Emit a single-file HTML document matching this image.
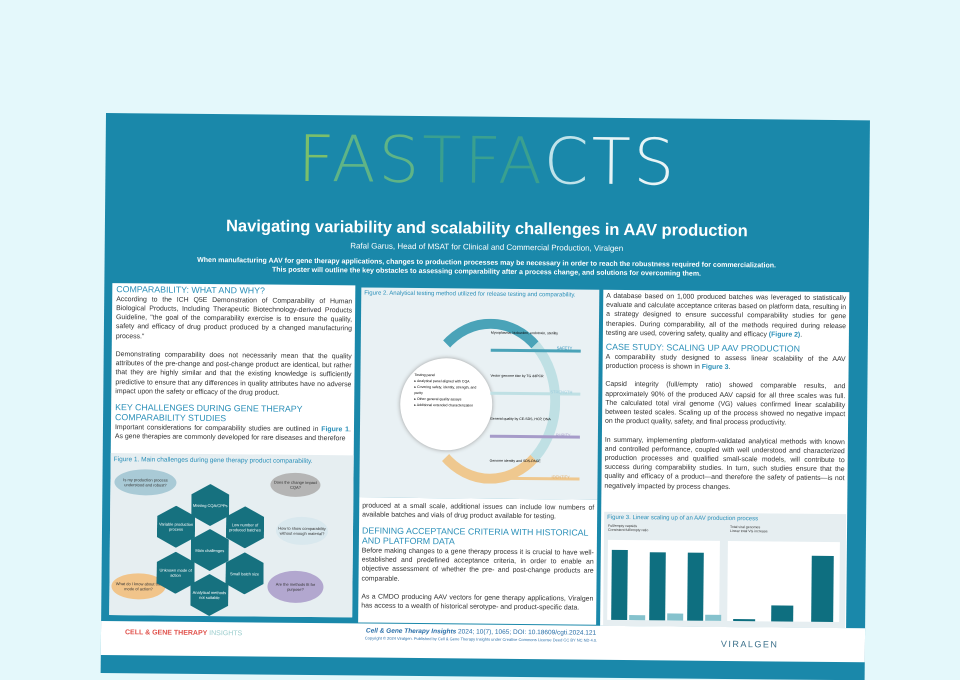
<!DOCTYPE html>
<html><head><meta charset="utf-8"><style>
body{margin:0;width:960px;height:660px;overflow:hidden;background:#e4f8fb;font-family:"Liberation Sans",sans-serif}
#p{position:absolute;left:106px;top:113px;width:764px;height:560px;background:#1a88aa;transform:rotate(0.55deg);transform-origin:0 0}
.a{position:absolute}
.w{background:#fff}
.t{font-size:6.9px;line-height:9.2px;color:#333;text-align:justify;font-family:"Liberation Sans Narrow","Liberation Sans",sans-serif}
.h{color:#2a8fb8;font-size:8.8px;line-height:9.8px}
.ff{position:absolute;top:8px;left:0;width:764px;text-align:center;font-size:64px;font-weight:100;letter-spacing:3px;color:#3aa98f;font-family:"DejaVu Sans",sans-serif}
.hex{position:absolute;width:38px;height:42px;background:#16717f;clip-path:polygon(50% 0,100% 25%,100% 75%,50% 100%,0 75%,0 25%);color:#fff;font-size:4px;text-align:center;display:flex;align-items:center;justify-content:center}
.cl{position:absolute;border-radius:50%;font-size:4px;text-align:center;display:flex;align-items:center;justify-content:center;color:#333}
.bar{position:absolute;bottom:0;background:#0e6f80}
.be{position:absolute;bottom:0;background:#85c2cd}
</style></head><body>
<div id="p">
<div class="ff"><span style="color:#7bbf6b">F</span><span style="color:#5fb486">AS</span><span style="color:#3aa08f">TFA</span><span style="color:#bfe3ea">C</span><span style="color:#e8f4f6">TS</span></div>
<div class="a" style="top:103px;width:764px;text-align:center;color:#fff;font-weight:bold;font-size:16.5px">Navigating variability and scalability challenges in AAV production</div>
<div class="a" style="top:126px;width:764px;text-align:center;color:#fff;font-size:8px">Rafal Garus, Head of MSAT for Clinical and Commercial Production, Viralgen</div>
<div class="a" style="top:142px;width:764px;text-align:center;color:#fff;font-size:7px;line-height:9px;font-weight:bold">When manufacturing AAV for gene therapy applications, changes to production processes may be necessary in order to reach the robustness required for commercialization.<br>This poster will outline the key obstacles to assessing comparability after a process change, and solutions for overcoming them.</div>

<div class="a w" style="left:8px;top:170px;width:243px;height:332px"></div>
<div class="a" style="left:12px;top:172px;width:236px">
<div class="h">COMPARABILITY: WHAT AND WHY?</div>
<div class="t">According to the ICH Q5E Demonstration of Comparability of Human Biological Products, Including Therapeutic Biotechnology-derived Products Guideline, "the goal of the comparability exercise is to ensure the quality, safety and efficacy of drug product produced by a changed manufacturing process."<br><br>Demonstrating comparability does not necessarily mean that the quality attributes of the pre-change and post-change product are identical, but rather that they are highly similar and that the existing knowledge is sufficiently predictive to ensure that any differences in quality attributes have no adverse impact upon the safety or efficacy of the drug product.</div>
<div class="h" style="margin-top:7px">KEY CHALLENGES DURING GENE THERAPY<br>COMPARABILITY STUDIES</div>
<div class="t">Important considerations for comparability studies are outlined in <b style="color:#2a8fb8">Figure 1</b>. As gene therapies are commonly developed for rare diseases and therefore</div>
</div>
<div class="a" style="left:8px;top:340px;width:243px;height:162px;background:#e6eef1">
<div style="color:#2a8fb8;font-size:6.5px;padding:3px">Figure 1. Main challenges during gene therapy product comparability.</div>
<div class="cl" style="left:4px;top:16px;width:62px;height:26px;background:#a9cad6">Is my production process understood and robust?</div>
<div class="cl" style="left:160px;top:18px;width:50px;height:24px;background:#b5b5b5">Does the change impact CQA?</div>
<div class="cl" style="left:166px;top:62px;width:52px;height:28px;background:#d9e8ee">How to show comparability without enough material?</div>
<div class="cl" style="left:2px;top:120px;width:54px;height:26px;background:#f1c48a">What do I know about the mode of action?</div>
<div class="cl" style="left:158px;top:116px;width:56px;height:32px;background:#b2a7cf">Are the methods fit for purpose?</div>
<div class="hex" style="left:81px;top:30px">Missing CQA/CPPs</div>
<div class="hex" style="left:47px;top:52px">Variable production process</div>
<div class="hex" style="left:116px;top:52px">Low number of produced batches</div>
<div class="hex" style="left:81px;top:75px">Main challenges</div>
<div class="hex" style="left:47px;top:98px">Unknown mode of action</div>
<div class="hex" style="left:116px;top:98px">Small batch size</div>
<div class="hex" style="left:81px;top:120px">Analytical methods not suitable</div>
</div>

<div class="a" style="left:257px;top:172px;width:238px;height:210px;background:#e9f1f4">
<div style="color:#2a8fb8;font-size:6px;padding:3px">Figure 2. Analytical testing method utilized for release testing and comparability.</div>
<div class="a" style="left:60px;top:30px;width:140px;height:165px;border-radius:50%;border:10px solid #bfe0e4;border-left-color:#e9f1f4;border-top-color:#4aa3b8;border-bottom-color:#efc88f;box-sizing:border-box"></div>
<div class="a" style="left:40px;top:70px;width:92px;height:92px;border-radius:50%;background:#fff;box-shadow:0 0 4px #999;font-size:3.5px;padding:14px;box-sizing:border-box;line-height:6px">Testing panel<br>▸ Analytical panel aligned with CQA<br>▸ Covering safety, identity, strength, and purity<br>▸ Other general quality assays<br>▸ Additional extended characterization</div>
<div class="a" style="left:130px;top:42px;width:90px;height:18px;border-bottom:3px solid #4aa3b8;font-size:3.5px">Mycoplasma, bioburden, endotoxin, sterility</div>
<div class="a" style="left:196px;top:56px;font-size:4px;color:#2a8fb8">SAFETY</div>
<div class="a" style="left:130px;top:85px;width:90px;height:18px;border-bottom:3px solid #bfe0e4;font-size:3.5px">Vector genome titer by TG ddPCR</div>
<div class="a" style="left:190px;top:100px;font-size:4px;color:#9cd">STRENGTH</div>
<div class="a" style="left:130px;top:128px;width:90px;height:18px;border-bottom:3px solid #a69bc9;font-size:3.5px">General quality by CE-SDS, HCP, DNA</div>
<div class="a" style="left:196px;top:143px;font-size:4px;color:#a69bc9">PURITY</div>
<div class="a" style="left:130px;top:170px;width:90px;height:18px;border-bottom:3px solid #efc88f;font-size:3.5px">Genome identity and SDS-PAGE</div>
<div class="a" style="left:192px;top:185px;font-size:4px;color:#e0a860">IDENTITY</div>
</div>
<div class="a w" style="left:257px;top:382px;width:238px;height:125px"></div>
<div class="a" style="left:260px;top:386px;width:232px">
<div class="t">produced at a small scale, additional issues can include low numbers of available batches and vials of drug product available for testing.</div>
<div class="h" style="margin-top:7px">DEFINING ACCEPTANCE CRITERIA WITH HISTORICAL AND PLATFORM DATA</div>
<div class="t">Before making changes to a gene therapy process it is crucial to have well-established and predefined acceptance criteria, in order to enable an objective assessment of whether the pre- and post-change products are comparable.<br><br>As a CMDO producing AAV vectors for gene therapy applications, Viralgen has access to a wealth of historical serotype- and product-specific data.</div>
</div>

<div class="a w" style="left:499px;top:172px;width:246px;height:336px"></div>
<div class="a" style="left:502px;top:174px;width:240px">
<div class="t">A database based on 1,000 produced batches was leveraged to statistically evaluate and calculate acceptance criteras based on platform data, resulting in a strategy designed to ensure successful comparability studies for gene therapies. During comparability, all of the methods required during release testing are used, covering safety, quality and efficacy <b style="color:#2a8fb8">(Figure 2)</b>.</div>
<div class="h" style="margin-top:5px">CASE STUDY: SCALING UP AAV PRODUCTION</div>
<div class="t">A comparability study designed to assess linear scalability of the AAV production process is shown in <b style="color:#2a8fb8">Figure 3</b>.<br><br>Capsid integrity (full/empty ratio) showed comparable results, and approximately 90% of the produced AAV capsid for all three scales was full. The calculated total viral genome (VG) values confirmed linear scalability between tested scales. Scaling up of the process showed no negative impact on the product quality, safety, and final process productivity.<br><br>In summary, implementing platform-validated analytical methods with known and controlled performance, coupled with well understood and characterized production processes and qualified small-scale models, will contribute to success during comparability studies. In turn, such studies ensure that the quality and efficacy of a product—and therefore the safety of patients—is not negatively impacted by process changes.</div>
</div>
<div class="a" style="left:502px;top:394px;width:242px;height:114px;background:#e6eef1">
<div style="color:#2a8fb8;font-size:6px;padding:3px">Figure 3. Linear scaling up of an AAV production process</div>
<div class="a" style="left:4px;top:12px;font-size:3.5px;color:#333">Full/empty capsids<br>Consistent full/empty ratio</div>
<div class="a" style="left:126px;top:12px;font-size:3.5px;color:#333">Total viral genomes<br>Linear total VG increase</div>
<div class="a" style="left:4px;top:28px;width:112px;height:80px;background:#fff">
<div class="bar" style="left:4px;width:16px;height:70px"></div><div class="be" style="left:22px;width:16px;height:5px"></div>
<div class="bar" style="left:42px;width:16px;height:68px"></div><div class="be" style="left:60px;width:16px;height:7px"></div>
<div class="bar" style="left:80px;width:16px;height:68px"></div><div class="be" style="left:98px;width:16px;height:6px"></div>
</div>
<div class="a" style="left:124px;top:28px;width:112px;height:80px;background:#fff">
<div class="bar" style="left:6px;width:22px;height:2px"></div>
<div class="bar" style="left:44px;width:22px;height:16px"></div>
<div class="bar" style="left:84px;width:22px;height:66px"></div>
</div>
</div>

<div class="a w" style="left:0;top:508px;width:764px;height:34px"></div>
<div class="a" style="left:24px;top:516px;font-size:7px;color:#e0504a;font-weight:bold">CELL &amp; GENE THERAPY <span style="color:#9cc;font-weight:normal">INSIGHTS</span></div>
<div class="a" style="left:150px;top:512px;width:460px;text-align:center;font-size:6.5px;color:#2a6fa8"><i><b>Cell &amp; Gene Therapy Insights</b></i> 2024; 10(7), 1065; DOI: 10.18609/cgti.2024.121<br><span style="font-size:4px">Copyright © 2024 Viralgen. Published by Cell &amp; Gene Therapy Insights under Creative Commons License Deed CC BY NC ND 4.0.</span></div>
<div class="a" style="left:620px;top:520px;font-size:9px;letter-spacing:1.5px;color:#3a6f8a">VIRALGEN</div>
</div>
</body></html>
